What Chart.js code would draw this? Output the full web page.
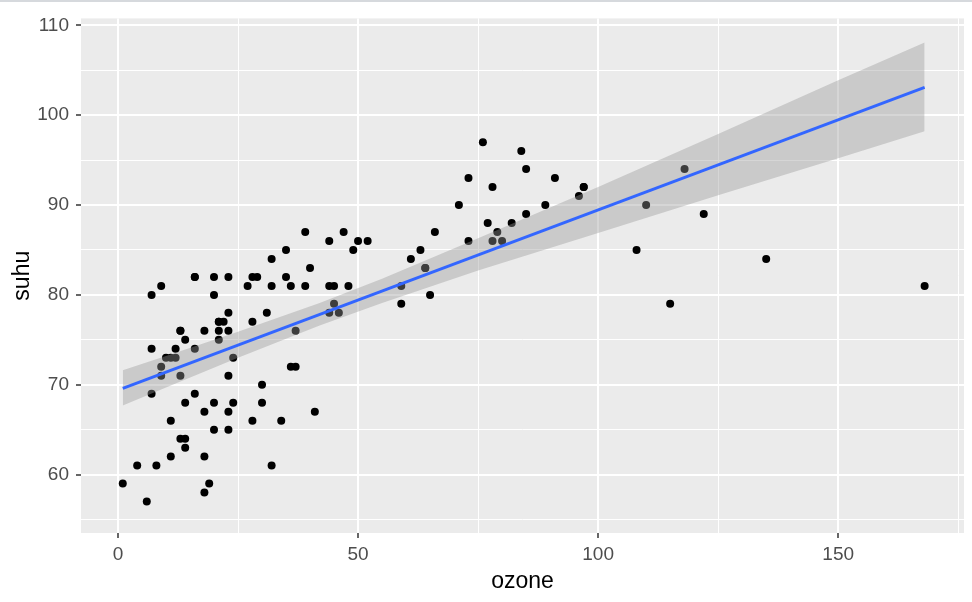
<!DOCTYPE html>
<html lang="id">
<head>
  <meta charset="UTF-8" />
  <title>ozone vs suhu</title>
  <script src="https://cdn.jsdelivr.net/npm/chart.js"></script>
  <style>
    body { margin: 0; background: #fff; }
    #wrap { position: relative; width: 972px; height: 602px; }
    #topline { position: absolute; left: 0; top: 0; width: 972px; height: 2px; background: #d6d9dd; }
  </style>
</head>
<body>
  <div id="wrap">
    <canvas id="chart" width="972" height="602"></canvas>
    <div id="topline"></div>
  </div>

  <script>
    // titik data (ozone, suhu)
    const ozone = [41, 36, 12, 18, 28, 23, 19, 8, 7, 16, 11, 14, 18, 14, 34, 6, 30, 11, 1, 11,
      4, 32, 23, 45, 115, 37, 29, 71, 39, 23, 21, 37, 20, 12, 13, 135, 49, 32, 64, 40,
      77, 97, 97, 85, 10, 27, 7, 48, 35, 61, 79, 63, 16, 80, 108, 20, 52, 82, 50, 64,
      59, 39, 9, 16, 78, 35, 66, 122, 89, 110, 44, 28, 65, 22, 59, 23, 31, 44, 21, 9,
      45, 168, 73, 76, 118, 84, 85, 96, 78, 73, 91, 47, 32, 20, 23, 21, 24, 44, 21, 28,
      9, 13, 46, 18, 13, 24, 16, 13, 23, 36, 7, 14, 30, 14, 18, 20];
    const suhu = [67, 72, 74, 62, 66, 65, 59, 61, 74, 69, 66, 68, 58, 64, 66, 57, 68, 62, 59, 73,
      61, 61, 67, 81, 79, 76, 82, 90, 87, 82, 77, 72, 65, 73, 76, 84, 85, 81, 83, 83,
      88, 92, 92, 89, 73, 81, 80, 81, 82, 84, 87, 85, 74, 86, 85, 82, 86, 88, 86, 83,
      81, 81, 81, 82, 86, 85, 87, 89, 90, 90, 86, 82, 80, 77, 79, 76, 78, 78, 77, 72,
      79, 81, 86, 97, 94, 96, 94, 91, 92, 93, 93, 87, 84, 80, 78, 75, 73, 81, 76, 77,
      71, 71, 78, 67, 76, 68, 82, 64, 71, 81, 69, 63, 70, 75, 76, 68];

    // garis regresi dan pita kepercayaan
    const fitX = [1, 168];
    const fitY = [69.6, 103.1];
    const bandX = [1, 10, 25, 42, 55, 75, 100, 125, 150, 168];
    const bandLow = [67.7, 69.7, 73.0, 76.6, 79.1, 82.7, 86.9, 91.1, 95.2, 98.2];
    const bandHigh = [71.6, 73.2, 75.9, 79.1, 81.8, 86.3, 92.0, 97.9, 103.9, 108.1];

    const xTicks = [0, 50, 100, 150];
    const yTicks = [60, 70, 80, 90, 100, 110];

    const toPts = (xs, ys) => xs.map((x, i) => ({ x: x, y: ys[i] }));

    const panelBg = {
      id: "panelBg",
      beforeDraw(chart) {
        const a = chart.chartArea;
        const c = chart.ctx;
        c.save();
        c.fillStyle = "#ebebeb";
        c.fillRect(a.left, a.top, a.right - a.left, a.bottom - a.top);
        c.restore();
      }
    };

    const tickFont = { family: "'Liberation Sans', Arial, sans-serif", size: 19 };
    const titleFont = { family: "'Liberation Sans', Arial, sans-serif", size: 23 };

    function gridFor(majors) {
      return {
        color: "#ffffff",
        lineWidth: (ctx) => (ctx.tick && majors.includes(ctx.tick.value) ? 2 : 1),
        drawTicks: true,
        tickLength: 5,
        tickWidth: 1.5,
        tickColor: (ctx) => (ctx.tick && majors.includes(ctx.tick.value) ? "#333333" : "rgba(0,0,0,0)")
      };
    }

    new Chart(document.getElementById("chart"), {
      type: "scatter",
      data: {
        datasets: [
          {
            data: toPts(fitX, fitY),
            showLine: true,
            borderColor: "#3366ff",
            borderWidth: 3,
            pointRadius: 0,
            order: 0
          },
          {
            data: toPts(bandX, bandHigh),
            showLine: true,
            borderWidth: 0,
            borderColor: "rgba(0,0,0,0)",
            backgroundColor: "rgba(153,153,153,0.4)",
            fill: "+1",
            pointRadius: 0,
            order: 1
          },
          {
            data: toPts(bandX, bandLow),
            showLine: true,
            borderWidth: 0,
            borderColor: "rgba(0,0,0,0)",
            pointRadius: 0,
            order: 2
          },
          {
            data: toPts(ozone, suhu),
            pointRadius: 4,
            pointBackgroundColor: "#000000",
            pointBorderWidth: 0,
            order: 3
          }
        ]
      },
      options: {
        responsive: false,
        devicePixelRatio: 1,
        animation: false,
        layout: { padding: { top: 12, right: 8, left: 0, bottom: 0 } },
        plugins: {
          legend: { display: false },
          tooltip: { enabled: false }
        },
        scales: {
          x: {
            type: "linear",
            min: -7.7,
            max: 176.2,
            border: { display: false },
            grid: gridFor(xTicks),
            ticks: {
              stepSize: 25,
              includeBounds: false,
              maxRotation: 0,
              autoSkip: false,
              padding: 5,
              color: "#4d4d4d",
              font: tickFont,
              callback: (v) => (xTicks.includes(v) ? String(v) : "")
            },
            title: {
              display: true,
              text: "ozone",
              color: "#000000",
              font: titleFont,
              padding: { top: 7, bottom: 7 }
            },
            afterFit: (s) => { s.height = 69; }
          },
          y: {
            type: "linear",
            min: 53.5,
            max: 110.77,
            border: { display: false },
            grid: gridFor(yTicks),
            ticks: {
              stepSize: 5,
              includeBounds: false,
              autoSkip: false,
              padding: 7,
              color: "#4d4d4d",
              font: tickFont,
              callback: (v) => (yTicks.includes(v) ? String(v) : "")
            },
            title: {
              display: true,
              text: "suhu",
              color: "#000000",
              font: titleFont,
              padding: { top: 9, bottom: 9 }
            },
            afterFit: (s) => { s.width = 81; }
          }
        }
      },
      plugins: [panelBg]
    });
  </script>
</body>
</html>
